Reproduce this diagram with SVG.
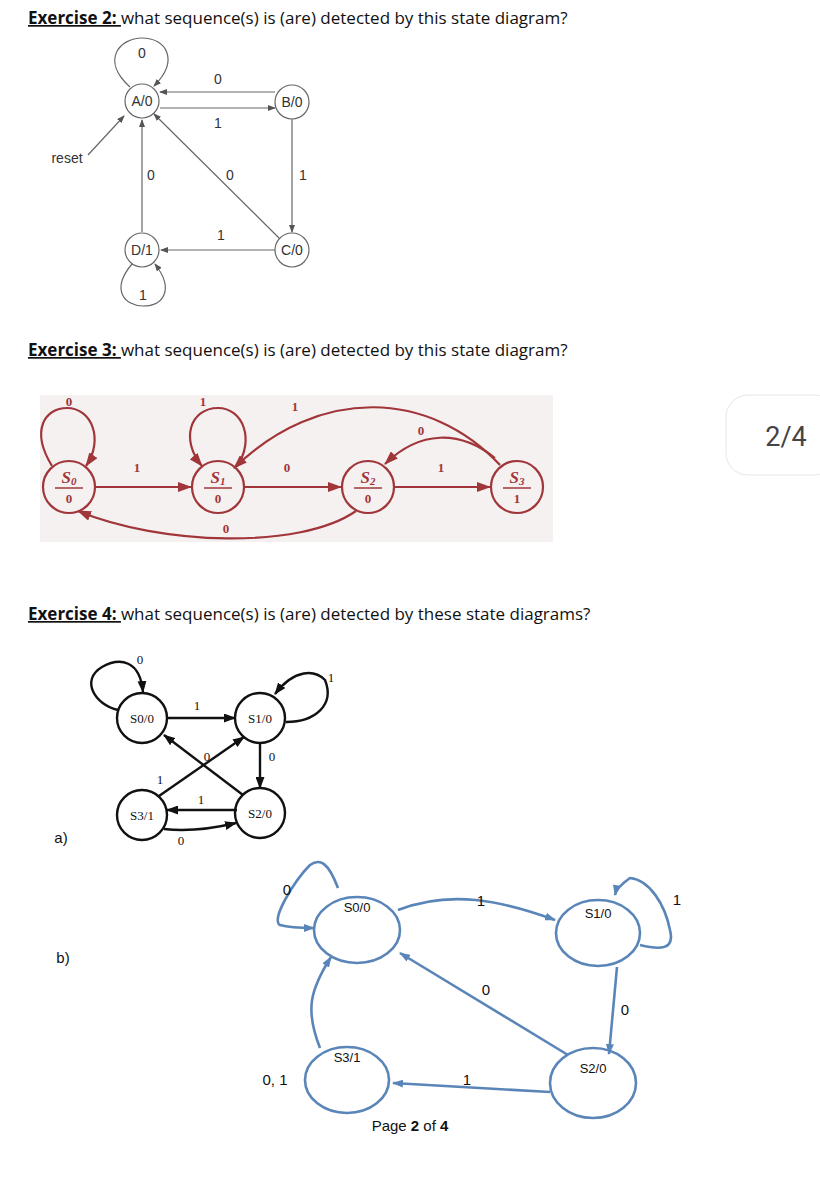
<svg xmlns="http://www.w3.org/2000/svg" width="820" height="1199" viewBox="0 0 820 1199">
<defs>
<style>
.h{font-family:"Open Sans","Liberation Sans",sans-serif;font-size:17px;fill:#111}
.g{fill:none;stroke:#666;stroke-width:1.2}
.gt{font-family:"Liberation Sans",Arial,sans-serif;font-size:14px;fill:#333;text-anchor:middle}
.r{fill:none;stroke:#a0363a;stroke-width:2.2}
.rt{font-family:"Liberation Serif",serif;font-size:13px;font-weight:bold;fill:#a0363a;text-anchor:middle}
.rs{font-family:"Liberation Serif",serif;font-size:17px;font-weight:bold;font-style:italic;fill:#a0363a;text-anchor:middle}
.k{fill:none;stroke:#111;stroke-width:2.4}
.kt{font-family:"Liberation Serif",serif;font-size:13px;fill:#111;text-anchor:middle}
.b{fill:none;stroke:#5a85b8;stroke-width:2.6}
.bt{font-family:"Liberation Sans",Arial,sans-serif;font-size:13px;fill:#111;text-anchor:middle}
.bl{font-family:"Liberation Sans",Arial,sans-serif;font-size:15px;fill:#111;text-anchor:middle}
</style>
<marker id="mg" markerWidth="8" markerHeight="6" refX="7" refY="3" orient="auto" markerUnits="userSpaceOnUse"><path d="M0,0L8,3L0,6z" fill="#555"/></marker>
<marker id="mr" markerWidth="14" markerHeight="10" refX="13" refY="5" orient="auto" markerUnits="userSpaceOnUse"><path d="M0,0L14,5L0,10z" fill="#a0363a"/></marker>
<marker id="mk" markerWidth="12" markerHeight="9" refX="11" refY="4.5" orient="auto" markerUnits="userSpaceOnUse"><path d="M0,0L12,4.5L0,9z" fill="#111"/></marker>
<marker id="mb" markerWidth="11" markerHeight="8" refX="10" refY="4" orient="auto" markerUnits="userSpaceOnUse"><path d="M0,0L11,4L0,8z" fill="#5a85b8"/></marker>
</defs>
<rect width="820" height="1199" fill="#fff"/>

<text class="h" x="28" y="24"><tspan font-weight="bold" text-decoration="underline">Exercise 2: </tspan>what sequence(s) is (are) detected by this state diagram?</text>
<text class="h" x="28" y="356"><tspan font-weight="bold" text-decoration="underline">Exercise 3: </tspan>what sequence(s) is (are) detected by this state diagram?</text>
<text class="h" x="28" y="620"><tspan font-weight="bold" text-decoration="underline">Exercise 4: </tspan>what sequence(s) is (are) detected by these state diagrams?</text>

<!-- Exercise 2 -->
<g id="connectors2">
<path class="g" d="M130,87 C100,60 120,38 142,38 C166,38 180,60 154,86" marker-end="url(#mg)"/>
<path class="g" d="M132,264 C110,290 125,306 143,306 C163,306 175,290 155,264" marker-end="url(#mg)"/>
<path class="g" d="M88,155 L124,116" marker-end="url(#mg)"/>
<path class="g" d="M275,92 L160,92" marker-end="url(#mg)"/>
<path class="g" d="M160,108 L275,108" marker-end="url(#mg)"/>
<path class="g" d="M292,119 L292,232" marker-end="url(#mg)"/>
<path class="g" d="M275,250 L161,250" marker-end="url(#mg)"/>
<path class="g" d="M142,232 L142,120" marker-end="url(#mg)"/>
<path class="g" d="M279,238 L154,114" marker-end="url(#mg)"/>
</g>
<g id="A2"><circle cx="142" cy="101" r="17" fill="#fff" stroke="#666" stroke-width="1.2"/><text class="gt" x="142" y="106">A/0</text></g>
<g id="B2"><circle cx="292" cy="102" r="17" fill="#fff" stroke="#666" stroke-width="1.2"/><text class="gt" x="292" y="107">B/0</text></g>
<g id="C2"><circle cx="292" cy="250" r="17" fill="#fff" stroke="#666" stroke-width="1.2"/><text class="gt" x="292" y="255">C/0</text></g>
<g id="D2"><circle cx="142" cy="250" r="17" fill="#fff" stroke="#666" stroke-width="1.2"/><text class="gt" x="142" y="255">D/1</text></g>
<g id="labels2">
<text class="gt" x="142" y="58">0</text>
<text class="gt" x="67" y="163" font-size="16">reset</text>
<text class="gt" x="218" y="84">0</text>
<text class="gt" x="218" y="128">1</text>
<text class="gt" x="151" y="180">0</text>
<text class="gt" x="230" y="180">0</text>
<text class="gt" x="303" y="180">1</text>
<text class="gt" x="221" y="240">1</text>
<text class="gt" x="143" y="300">1</text>
</g>

<!-- Exercise 3 -->
<rect x="40" y="395" width="513" height="147" fill="#f6f1f1"/>
<g id="connectors3">
<path class="r" d="M52,466 C30,430 45,408 67,408 C92,408 104,440 86,466" marker-end="url(#mr)"/>
<path class="r" d="M237,466 C255,440 243,408 218,408 C190,408 180,440 202,466" marker-end="url(#mr)"/>
<path class="r" d="M94,487 L191,487" marker-end="url(#mr)"/>
<path class="r" d="M245,487 L341,487" marker-end="url(#mr)"/>
<path class="r" d="M395,487 L490,487" marker-end="url(#mr)"/>
<path class="r" d="M356,511 C300,550 160,545 78,511" marker-end="url(#mr)"/>
<path class="r" d="M500,465 C430,390 320,385 234,468" marker-end="url(#mr)"/>
<path class="r" d="M495,458 C460,430 420,430 385,464" marker-end="url(#mr)"/>
</g>
<g id="S0e3"><circle class="r" cx="69" cy="487" r="26" fill="#fff"/><text class="rs" x="69" y="483">S<tspan font-size="11" dy="2">0</tspan></text><line x1="55" y1="488" x2="83" y2="488" stroke="#a0363a" stroke-width="1.5"/><text class="rt" x="69" y="503">0</text></g>
<g id="S1e3"><circle class="r" cx="218" cy="487" r="26" fill="#fff"/><text class="rs" x="218" y="483">S<tspan font-size="11" dy="2">1</tspan></text><line x1="204" y1="488" x2="232" y2="488" stroke="#a0363a" stroke-width="1.5"/><text class="rt" x="218" y="503">0</text></g>
<g id="S2e3"><circle class="r" cx="368" cy="487" r="26" fill="#fff"/><text class="rs" x="368" y="483">S<tspan font-size="11" dy="2">2</tspan></text><line x1="354" y1="488" x2="382" y2="488" stroke="#a0363a" stroke-width="1.5"/><text class="rt" x="368" y="503">0</text></g>
<g id="S3e3"><circle class="r" cx="517" cy="487" r="26" fill="#fff"/><text class="rs" x="517" y="483">S<tspan font-size="11" dy="2">3</tspan></text><line x1="503" y1="488" x2="531" y2="488" stroke="#a0363a" stroke-width="1.5"/><text class="rt" x="517" y="503">1</text></g>
<g id="labels3">
<text class="rt" x="69" y="406">0</text>
<text class="rt" x="203" y="406">1</text>
<text class="rt" x="137" y="472">1</text>
<text class="rt" x="287" y="472">0</text>
<text class="rt" x="441" y="472">1</text>
<text class="rt" x="226" y="533">0</text>
<text class="rt" x="295" y="411">1</text>
<text class="rt" x="421" y="435">0</text>
</g>

<!-- 2/4 badge -->
<g id="badge"><rect x="726" y="395" width="110" height="80" rx="22" fill="#fff" stroke="#e6e6e6"/><text x="786" y="446" font-family="Roboto,sans-serif" font-size="27" fill="#444" text-anchor="middle">2/4</text></g>

<!-- Exercise 4a -->
<text class="bl" x="61" y="843">a)</text>
<text class="bl" x="63" y="963">b)</text>
<g id="connectors4a">
<path class="k" d="M118,710 C95,705 80,680 102,667 C120,657 140,660 143,692" marker-end="url(#mk)"/>
<path class="k" d="M286,722 C315,722 335,705 325,680 C315,670 295,668 275,694" marker-end="url(#mk)"/>
<path class="k" d="M168,718 L235,718" marker-end="url(#mk)"/>
<path class="k" d="M260,743 L260,788" marker-end="url(#mk)"/>
<path class="k" d="M243,795 L164,735" marker-end="url(#mk)"/>
<path class="k" d="M159,796 L244,737" marker-end="url(#mk)"/>
<path class="k" d="M237,810 L167,810" marker-end="url(#mk)"/>
<path class="k" d="M164,829 C190,832 215,828 236,823" marker-end="url(#mk)"/>
</g>
<g id="S0a"><circle class="k" cx="142" cy="718" r="25" fill="#fff"/><text class="kt" x="142" y="723">S0/0</text></g>
<g id="S1a"><circle class="k" cx="260" cy="718" r="25" fill="#fff"/><text class="kt" x="260" y="723">S1/0</text></g>
<g id="S2a"><circle class="k" cx="260" cy="813" r="25" fill="#fff"/><text class="kt" x="260" y="818">S2/0</text></g>
<g id="S3a"><circle class="k" cx="142" cy="815" r="25" fill="#fff"/><text class="kt" x="142" y="820">S3/1</text></g>
<g id="labels4a">
<text class="kt" x="140" y="664">0</text>
<text class="kt" x="331" y="682">1</text>
<text class="kt" x="197" y="710">1</text>
<text class="kt" x="272" y="761">0</text>
<text class="kt" x="207" y="761">0</text>
<text class="kt" x="160" y="784">1</text>
<text class="kt" x="201" y="804">1</text>
<text class="kt" x="181" y="845">0</text>
</g>

<!-- Exercise 4b -->
<g id="connectors4b">
<path class="b" d="M338,888 C328,862 320,858 310,865 C295,880 270,920 280,925 C290,928 300,928 314,928" marker-end="url(#mb)"/>
<path class="b" d="M398,910 C450,890 500,900 555,920" marker-end="url(#mb)"/>
<path class="b" d="M640,945 C660,950 675,950 670,930 C665,905 650,880 630,878 C620,885 616,890 615,895" marker-end="url(#mb)"/>
<path class="b" d="M617,967 L609,1054" marker-end="url(#mb)"/>
<path class="b" d="M568,1055 L400,953" marker-end="url(#mb)"/>
<path class="b" d="M550,1092 L393,1083" marker-end="url(#mb)"/>
<path class="b" d="M320,1048 C305,1010 310,990 331,957" marker-end="url(#mb)"/>
</g>
<g id="S0b"><ellipse class="b" cx="357" cy="930" rx="43" ry="33"/><text class="bt" x="357" y="912">S0/0</text></g>
<g id="S1b"><ellipse class="b" cx="598" cy="933" rx="42" ry="33"/><text class="bt" x="598" y="918">S1/0</text></g>
<g id="S2b"><ellipse class="b" cx="593" cy="1083" rx="43" ry="35"/><text class="bt" x="593" y="1073">S2/0</text></g>
<g id="S3b"><ellipse class="b" cx="347" cy="1080" rx="42" ry="33"/><text class="bt" x="347" y="1062">S3/1</text></g>
<g id="labels4b">
<text class="bl" x="287" y="895">0</text>
<text class="bl" x="481" y="906">1</text>
<text class="bl" x="677" y="905">1</text>
<text class="bl" x="486" y="995">0</text>
<text class="bl" x="625" y="1015">0</text>
<text class="bl" x="467" y="1085">1</text>
<text class="bl" x="275" y="1085">0, 1</text>
<text class="bl" x="410" y="1131">Page <tspan font-weight="bold">2</tspan> of <tspan font-weight="bold">4</tspan></text>
</g>
</svg>
